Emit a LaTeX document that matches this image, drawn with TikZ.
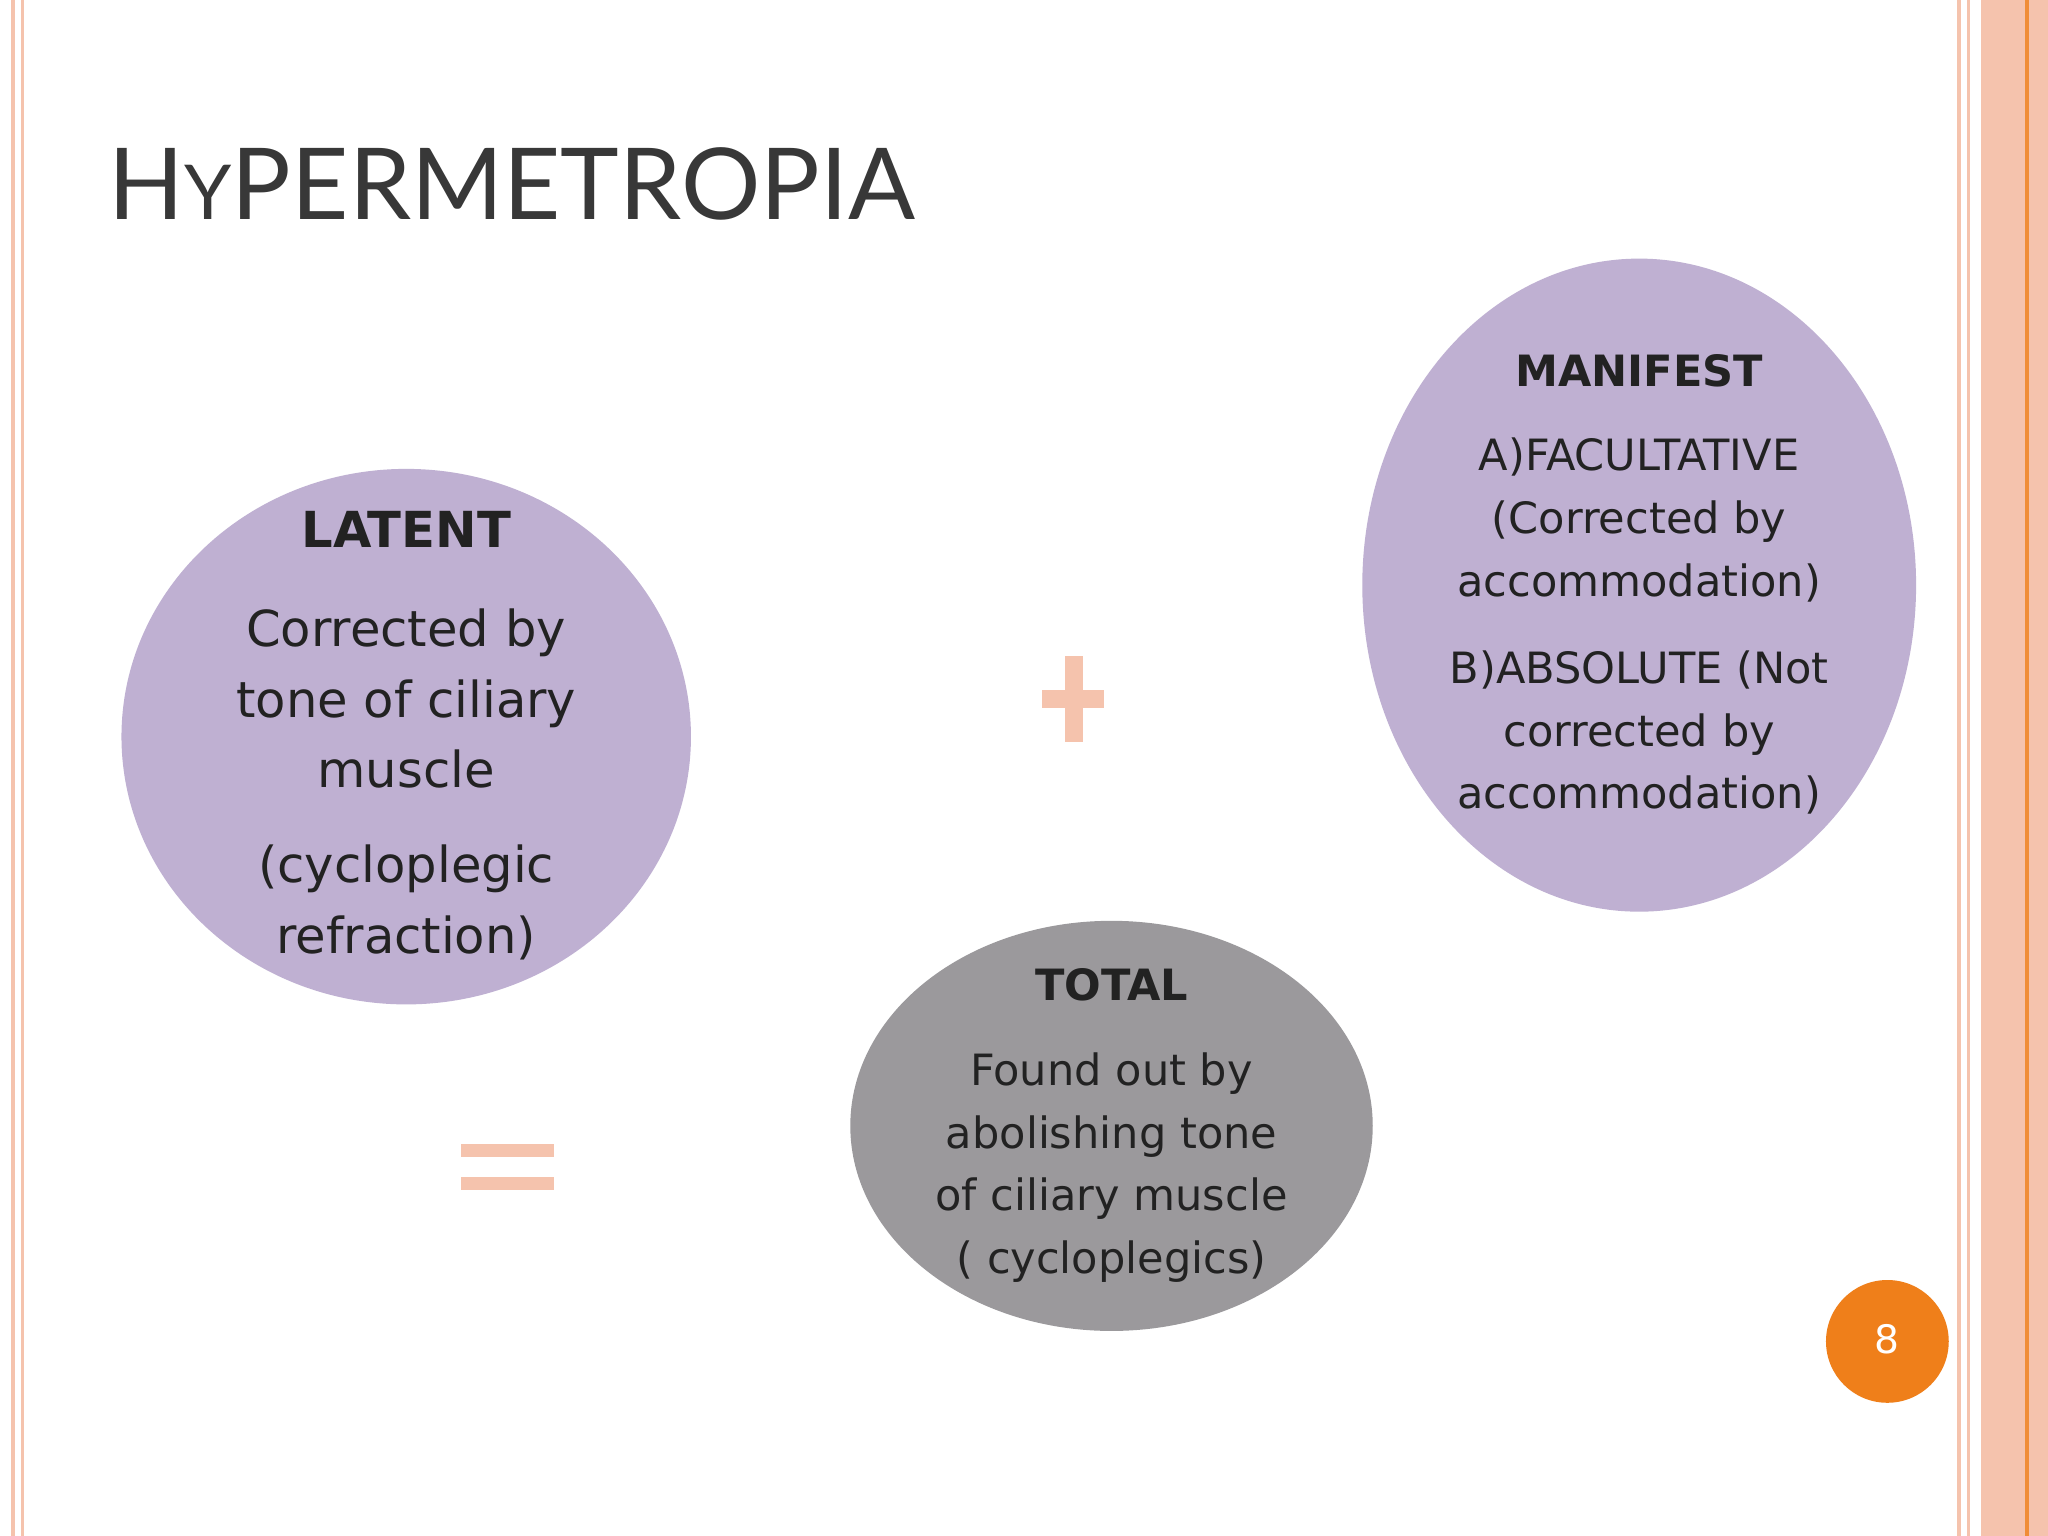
\documentclass[tikz,border=0pt]{standalone}
\usepackage{fontspec}
\setmainfont{DejaVu Sans}
\newfontfamily\titlefont{Lato}
\definecolor{purp}{HTML}{BFB0D2}
\definecolor{grayc}{HTML}{9B999C}
\definecolor{pinkc}{HTML}{F5C3AD}
\definecolor{orangec}{HTML}{EF7F1A}
\definecolor{txt}{HTML}{222222}
\begin{document}
\begin{tikzpicture}[x=0.5pt,y=-0.5pt,
  bubble/.style={ellipse, inner sep=0pt},
  lbl/.style={align=center, text=txt}]
\useasboundingbox (0,0) rectangle (1568,1176);
\fill[white] (0,0) rectangle (1568,1176);
% borders
\draw[pinkc, line width=1.5pt] (10,0) -- (10,1176);
\draw[pinkc, line width=1pt] (17,0) -- (17,1176);
\draw[pinkc, line width=1.5pt] (1500,0) -- (1500,1176);
\draw[pinkc, line width=1pt] (1507,0) -- (1507,1176);
\fill[pinkc] (1517,0) rectangle (1568,1176);
\draw[orangec!80!pinkc, line width=1.5pt] (1552,0) -- (1552,1176);
% title
\node[anchor=base west, inner sep=0pt, text=txt!90] (title) at (83,168)
  {\titlefont\fontsize{38}{40}\selectfont H{\fontsize{29}{30}\selectfont Y}PERMETROPIA};
% ellipses
\fill[purp] (311,564) ellipse [x radius=218, y radius=205];
\fill[purp] (1255,448) ellipse [x radius=212, y radius=250];
\fill[grayc] (851,862) ellipse [x radius=200, y radius=157];
\coordinate (lat) at (311,564);
\node[lbl, font=\fontsize{19}{27}\selectfont] (latt) at (311,405) {\bfseries LATENT};
\node[lbl, font=\fontsize{19}{27}\selectfont] (latb) at (311,535) {Corrected by\\tone of ciliary\\muscle};
\node[lbl, font=\fontsize{19}{27}\selectfont] (latc) at (311,691) {(cycloplegic\\refraction)};
\node[lbl, font=\fontsize{16.5}{24}\selectfont] (mant) at (1255,284) {\bfseries MANIFEST};
\node[lbl, font=\fontsize{16.5}{24}\selectfont] (mana) at (1255,398) {A)FACULTATIVE\\(Corrected by\\accommodation)};
\node[lbl, font=\fontsize{16.5}{24}\selectfont] (manb) at (1255,561) {B)ABSOLUTE (Not\\corrected by\\accommodation)};
\node[lbl, font=\fontsize{16.5}{24}\selectfont] (tott) at (851,754) {\bfseries TOTAL};
\node[lbl, font=\fontsize{16.5}{24}\selectfont] (totb) at (851,894) {Found out by\\abolishing tone\\of ciliary muscle\\( cycloplegics)};
% plus and equals
\fill[pinkc] (815,502) rectangle (829,568);
\fill[pinkc] (798,528) rectangle (845,542);
\fill[pinkc] (353,876) rectangle (424,886);
\fill[pinkc] (353,901) rectangle (424,911);
% page number
\fill[orangec] (1445,1027) circle [radius=47];
\node[text=white, font=\fontsize{15}{16}\selectfont] (pg) at (1445,1025) {8};
\end{tikzpicture}
\end{document}
